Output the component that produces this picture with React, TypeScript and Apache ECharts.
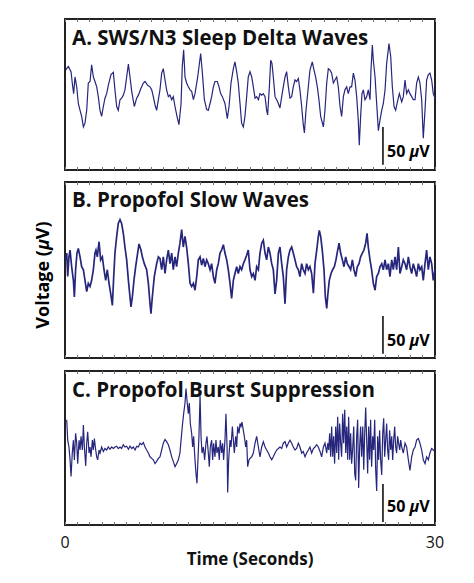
import React, { useEffect, useRef } from 'react';
import * as echarts from 'echarts';

// Time (s), voltage (µV)
const sleepDelta: [number, number][] = [
  [0.05,35],[0.27,40],[0.49,33],[0.59,18],[0.70,4],[0.81,26],[0.95,13],[1.08,-9],[1.22,-18],[1.35,-26],[1.49,-40],[1.62,-35],[1.76,-18],[1.89,18],[2.03,20],[2.16,42],[2.30,26],[2.43,20],[2.57,13],[2.70,0],[2.84,-18],[2.97,-26],[3.11,-13],[3.24,-2],[3.38,4],[3.51,15],[3.73,29],[3.92,32],[4.05,9],[4.19,-13],[4.32,-18],[4.46,-4],[4.59,-2],[4.73,2],[4.86,9],[5.00,26],[5.14,43],[5.27,26],[5.41,7],[5.62,-13],[5.81,-2],[5.95,2],[6.16,11],[6.35,18],[6.49,20],[6.70,15],[6.89,13],[7.03,9],[7.16,0],[7.30,-11],[7.43,-18],[7.57,-4],[7.70,9],[7.84,31],[7.97,37],[8.11,22],[8.24,9],[8.38,0],[8.51,2],[8.65,-4],[8.78,0],[8.92,-13],[9.08,-26],[9.24,-37],[9.41,-9],[9.51,40],[9.62,62],[9.73,26],[9.86,18],[10.00,13],[10.14,9],[10.27,7],[10.41,-4],[10.54,4],[10.76,26],[11.00,57],[11.14,31],[11.30,-4],[11.49,-17],[11.62,-18],[11.76,-9],[11.89,0],[12.03,13],[12.16,20],[12.35,20],[12.49,13],[12.62,4],[12.76,0],[12.97,-9],[13.16,-29],[13.30,-13],[13.46,18],[13.65,37],[13.78,46],[13.92,33],[14.05,18],[14.19,-9],[14.32,-35],[14.46,-40],[14.59,-26],[14.73,0],[14.86,26],[15.00,33],
  [15.14,26],[15.27,13],[15.41,-2],[15.54,0],[15.68,-4],[15.81,4],[15.95,2],[16.08,4],[16.22,0],[16.35,-18],[16.43,-24],[16.57,13],[16.68,48],[16.78,44],[16.89,26],[17.03,0],[17.16,-4],[17.30,-9],[17.43,-15],[17.57,0],[17.70,13],[17.84,26],[17.97,33],[18.11,13],[18.24,-2],[18.38,0],[18.51,13],[18.65,22],[18.78,20],[18.92,24],[19.05,9],[19.19,-13],[19.32,-37],[19.41,-48],[19.54,-18],[19.73,13],[19.86,35],[20.05,46],[20.19,35],[20.32,26],[20.46,13],[20.59,-4],[20.73,-26],[20.95,-40],[21.08,-18],[21.22,18],[21.35,37],[21.49,35],[21.62,31],[21.76,18],[21.89,22],[22.03,26],[22.16,13],[22.30,-13],[22.43,-26],[22.57,0],[22.70,9],[22.84,13],[22.97,4],[23.11,13],[23.24,13],[23.38,31],[23.51,22],[23.65,0],[23.78,-31],[23.86,-64],[23.97,-26],[24.08,4],[24.19,9],[24.32,-4],[24.46,0],[24.59,9],[24.73,-4],[24.81,35],[24.92,68],[25.00,48],[25.14,26],[25.27,-9],[25.41,-45],[25.54,-31],[25.68,-18],[25.81,-9],[25.95,9],[26.08,44],[26.27,70],[26.41,53],[26.54,13],[26.68,-13],[26.81,-18],[26.95,-7],[27.11,4],[27.30,-7],[27.43,0],[27.57,22],[27.70,4],[27.84,9],[27.97,4],[28.11,0],[28.24,-4],[28.38,-4],[28.51,18],[28.65,26],[28.78,18],[28.92,-4],[29.05,-55],[29.19,-18],[29.32,22],[29.46,29],[29.59,31],[29.73,22],[29.86,4],[30.00,-2]
];

const propofolSlow: [number, number][] = [
  [0.05,9],[0.14,18],[0.22,-13],[0.32,13],[0.41,22],[0.54,0],[0.68,-18],[0.76,-40],[0.86,-4],[0.97,18],[1.08,24],[1.22,13],[1.35,0],[1.49,-4],[1.62,-18],[1.76,-33],[1.89,-22],[2.03,-26],[2.16,-18],[2.30,-4],[2.43,18],[2.51,22],[2.62,13],[2.76,33],[2.89,9],[3.03,13],[3.16,-4],[3.30,-18],[3.43,-4],[3.57,-22],[3.70,-35],[3.84,-51],[3.95,-13],[4.05,18],[4.19,40],[4.32,57],[4.46,62],[4.59,57],[4.73,44],[4.86,26],[5.00,9],[5.14,-18],[5.27,-40],[5.35,-53],[5.46,-40],[5.59,-18],[5.73,0],[5.89,18],[6.00,30],[6.16,22],[6.27,13],[6.43,4],[6.62,-4],[6.76,-22],[6.89,-48],[6.97,-62],[7.08,-40],[7.24,-13],[7.43,4],[7.57,13],[7.70,11],[7.84,-4],[7.97,13],[8.11,-9],[8.24,9],[8.38,22],[8.51,4],[8.65,18],[8.78,-4],[8.92,13],[9.05,0],[9.19,18],[9.32,31],[9.46,49],[9.59,26],[9.73,40],[9.86,26],[10.00,4],[10.14,-22],[10.27,-26],[10.41,-22],[10.54,-31],[10.68,-13],[10.81,9],[10.95,13],[11.08,2],[11.22,11],[11.35,0],[11.49,9],[11.62,4],[11.76,-4],[11.89,4],[12.03,-13],[12.16,-22],[12.30,-4],[12.43,4],[12.57,18],[12.70,22],[12.84,29],[12.97,18],[13.11,9],[13.24,-4],[13.38,-22],[13.51,-42],[13.65,-18],[13.78,-9],[13.92,0],[14.05,-9],[14.19,0],[14.32,-4],[14.46,4],[14.59,9],[14.73,15],[14.86,22],
  [15.00,-4],[15.14,-13],[15.27,-9],[15.41,-18],[15.54,0],[15.68,-4],[15.81,18],[15.95,31],[16.08,35],[16.22,18],[16.35,9],[16.49,26],[16.62,18],[16.76,4],[16.89,-4],[17.03,-36],[17.16,-18],[17.30,18],[17.43,26],[17.57,4],[17.70,-13],[17.84,-49],[17.97,-4],[18.11,13],[18.24,22],[18.38,26],[18.51,18],[18.65,9],[18.78,0],[18.92,-4],[19.05,-13],[19.19,4],[19.32,-4],[19.46,-9],[19.59,4],[19.73,-4],[19.86,0],[20.00,-9],[20.14,-35],[20.27,4],[20.41,22],[20.54,40],[20.62,48],[20.73,40],[20.86,22],[21.00,-4],[21.11,-40],[21.22,-55],[21.32,-35],[21.43,-18],[21.57,-9],[21.70,-4],[21.84,0],[21.97,9],[22.11,22],[22.22,31],[22.35,18],[22.49,9],[22.62,0],[22.76,13],[22.89,4],[23.03,0],[23.16,-4],[23.30,9],[23.43,-4],[23.57,-13],[23.70,0],[23.84,4],[23.97,13],[24.11,18],[24.24,22],[24.38,31],[24.49,44],[24.59,26],[24.73,9],[24.86,-4],[25.00,-22],[25.14,-31],[25.27,-13],[25.41,-9],[25.54,0],[25.68,4],[25.81,-4],[25.95,9],[26.08,-4],[26.22,4],[26.35,-13],[26.49,9],[26.62,-4],[26.76,13],[26.89,-4],[27.03,26],[27.16,-9],[27.30,0],[27.43,9],[27.57,4],[27.70,-4],[27.84,13],[27.97,0],[28.11,-9],[28.24,4],[28.38,-4],[28.51,-13],[28.65,4],[28.78,-4],[28.92,0],[29.05,-18],[29.19,4],[29.32,22],[29.46,-4],[29.59,13],[29.73,4],[29.86,-18],[30.00,-4]
];

const burstSuppression: [number, number][] = [
  [0.14,40],[0.22,13],[0.32,4],[0.41,-13],[0.49,-35],[0.59,-4],[0.68,13],[0.76,-13],[0.86,22],[0.95,9],[1.03,-18],[1.14,13],[1.22,0],[1.30,18],[1.41,0],[1.49,33],[1.57,4],[1.68,-21],[1.76,9],[1.84,24],[1.95,-4],[2.03,4],[2.11,-9],[2.22,13],[2.30,0],[2.38,15],[2.49,0],[2.57,-9],[2.65,-13],[2.76,0],[2.84,-4],[2.97,4],[3.11,-2],[3.24,2],[3.38,0],[3.51,4],[3.65,1],[3.78,4],[3.92,2],[4.05,4],[4.19,5],[4.32,2],[4.46,4],[4.59,2],[4.73,7],[4.86,4],[5.00,5],[5.14,1],[5.27,5],[5.41,2],[5.54,4],[5.68,0],[5.81,5],[5.95,4],[6.08,9],[6.22,7],[6.35,10],[6.49,4],[6.62,0],[6.76,-4],[6.89,-9],[7.03,-11],[7.16,-13],[7.30,-18],[7.43,-15],[7.57,-11],[7.70,-9],[7.84,0],[7.97,9],[8.11,14],[8.24,11],[8.38,7],[8.51,0],[8.65,-9],[8.78,-15],[8.92,-22],[9.05,-18],[9.19,-13],[9.32,-4],[9.41,13],[9.51,31],[9.62,48],[9.73,62],[9.81,81],[9.89,66],[10.00,48],[10.08,62],[10.16,35],[10.27,22],[10.35,4],[10.43,18],[10.54,-13],[10.62,-31],[10.70,-44],[10.78,-13],[10.86,18],[10.95,72],[11.03,18],[11.11,-4],[11.22,4],[11.32,-13],[11.43,9],[11.51,18],[11.62,-4],[11.70,-22],[11.78,4],[11.89,13],[11.97,-13],[12.05,9],[12.16,-9],[12.24,13],[12.32,-4],[12.43,4],[12.51,-13],[12.59,13],[12.70,-4],[12.78,9],[12.86,-13],[12.97,13],[13.05,48],[13.14,4],[13.19,-56],[13.27,-13],[13.38,13],[13.46,4],[13.57,31],[13.65,13],[13.73,-4],[13.84,18],[13.92,4],[14.00,31],[14.11,22],[14.19,35],[14.27,31],[14.35,37],[14.46,26],[14.54,18],[14.65,4],[14.73,13],[14.81,-22],[14.92,-13],
  [15.00,-11],[15.14,-9],[15.27,-4],[15.41,9],[15.54,18],[15.68,4],[15.81,-9],[15.95,4],[16.08,11],[16.22,4],[16.35,0],[16.49,-4],[16.62,-9],[16.76,-13],[16.89,-9],[17.03,-4],[17.16,0],[17.30,2],[17.43,4],[17.57,2],[17.70,9],[17.84,11],[17.97,4],[18.11,9],[18.24,13],[18.38,9],[18.51,4],[18.65,0],[18.78,2],[18.92,9],[19.05,4],[19.19,-4],[19.32,-2],[19.46,-9],[19.59,-4],[19.73,0],[19.86,4],[20.00,-4],[20.14,2],[20.27,4],[20.41,7],[20.54,4],[20.68,-2],[20.81,-9],[20.95,4],[21.08,9],[21.22,-4],[21.30,9],[21.38,0],[21.46,22],[21.54,-9],[21.62,31],[21.70,-9],[21.78,18],[21.86,-18],[21.95,31],[22.03,-4],[22.11,44],[22.19,-13],[22.27,35],[22.35,9],[22.43,-9],[22.51,48],[22.59,9],[22.68,53],[22.76,-4],[22.84,31],[22.92,-13],[23.00,44],[23.08,-13],[23.16,22],[23.24,-18],[23.32,0],[23.41,31],[23.49,-31],[23.57,-40],[23.65,18],[23.73,40],[23.81,-50],[23.89,4],[23.97,31],[24.05,-9],[24.14,31],[24.22,-26],[24.30,22],[24.38,56],[24.46,13],[24.54,-31],[24.62,31],[24.70,-13],[24.78,40],[24.86,-22],[24.95,18],[25.03,0],[25.11,40],[25.19,-26],[25.27,-54],[25.35,18],[25.43,-13],[25.51,26],[25.59,-13],[25.68,-33],[25.76,22],[25.84,42],[25.92,-9],[26.00,13],[26.08,35],[26.16,0],[26.24,-13],[26.32,26],[26.41,0],[26.49,18],[26.57,-13],[26.65,13],[26.73,31],[26.81,4],[26.89,-4],[26.97,18],[27.05,9],[27.14,0],[27.22,13],[27.30,4],[27.43,-4],[27.57,9],[27.70,4],[27.84,-13],[27.97,-27],[28.11,-9],[28.24,0],[28.38,4],[28.51,13],[28.65,15],[28.78,9],[28.92,0],[29.05,-13],[29.19,-18],[29.32,-9],[29.46,-13],[29.59,-4],[29.73,2],[29.86,0],[30.00,-2]
];

const panelTitles = ['A. SWS/N3 Sleep Delta Waves', 'B. Propofol Slow Waves', 'C. Propofol Burst Suppression'];
const timeExtent = [0, 30];
const timeTickLabels = [0, 30];
const scaleBarMicroVolts = 50;
const scaleBarTime = 25.78;
// y extents (µV) of each panel, bottom/top
const yExtents: [number, number][] = [[-96.8, 102.5], [-120.5, 111.8], [-99, 104.3]];
const scaleBarBottoms = [-90, -115, -95];

export default function App() {
  const ref = useRef<HTMLDivElement>(null);
  useEffect(() => {
    const chart = echarts.init(ref.current!, null, { renderer: 'svg' });
    const grids = [
      { left: 65, top: 19, width: 370, height: 151 },
      { left: 65, top: 182, width: 370, height: 176 },
      { left: 65, top: 371, width: 370, height: 154 },
    ];
    const traces = [sleepDelta, propofolSlow, burstSuppression];
    const traceWidths = [1.2, 1.7, 1.2];
    const font = 'Open Sans';
    const tick = { show: true, inside: true, length: 3, lineStyle: { color: '#777', width: 1 } };
    const xAxis: any[] = [];
    const yAxis: any[] = [];
    grids.forEach((g, i) => {
      xAxis.push({
        type: 'value', gridIndex: i, min: timeExtent[0], max: timeExtent[1], interval: 1,
        position: 'bottom', axisLine: { show: false, onZero: false }, splitLine: { show: false }, axisTick: tick,
        axisLabel: {
          show: i === 2, margin: 9, fontSize: 16, color: '#111', fontFamily: font,
          formatter: (v: number) => (timeTickLabels.includes(v) ? String(v) : ''),
        },
      });
      xAxis.push({
        type: 'value', gridIndex: i, min: timeExtent[0], max: timeExtent[1], interval: 1,
        position: 'top', axisLine: { show: false, onZero: false }, splitLine: { show: false }, axisTick: tick,
        axisLabel: { show: false },
      });
      yAxis.push({ type: 'value', gridIndex: i, min: yExtents[i][0], max: yExtents[i][1], show: false });
    });
    const series: any[] = [];
    traces.forEach((d, i) => {
      series.push({
        type: 'line', xAxisIndex: i * 2, yAxisIndex: i, data: d, showSymbol: false, symbol: 'none',
        lineStyle: { color: '#26267c', width: traceWidths[i], join: 'miter' }, silent: true,
      });
      series.push({
        type: 'line', xAxisIndex: i * 2, yAxisIndex: i, showSymbol: false, symbol: 'none',
        data: [[scaleBarTime, scaleBarBottoms[i]], [scaleBarTime, scaleBarBottoms[i] + scaleBarMicroVolts]],
        lineStyle: { color: '#000', width: 1.5 }, silent: true,
      });
    });
    const rich = {
      b: { fontFamily: font, fontWeight: 'bold', fontSize: 16, color: '#111' },
      i: { fontFamily: font, fontStyle: 'italic', fontWeight: 'bold', fontSize: 16, color: '#111' },
    };
    const scaleLabelY = [151, 340, 506];
    const titleCenters = [37, 199, 388.5];
    const graphic: any[] = [];
    panelTitles.forEach((t, i) => {
      graphic.push({
        type: 'text', x: 72, y: titleCenters[i],
        style: { text: t, fontFamily: font, fontWeight: 'bold', fontSize: 20.5, fill: '#111', verticalAlign: 'middle' },
      });
      graphic.push({
        type: 'text', x: 387, y: scaleLabelY[i],
        style: { text: '{b|' + scaleBarMicroVolts + ' }{i|μ}{b|V}', rich, verticalAlign: 'middle' },
      });
    });
    graphic.push({
      type: 'text', x: 250, y: 558,
      style: { text: 'Time (Seconds)', fontFamily: font, fontWeight: 'bold', fontSize: 17, fill: '#111', align: 'center', verticalAlign: 'middle' },
    });
    graphic.push({
      type: 'text', x: 42, y: 275, rotation: Math.PI / 2,
      style: {
        text: '{b|Voltage (}{i|μ}{b|V)}', align: 'center', verticalAlign: 'middle',
        rich: {
          b: { fontFamily: font, fontWeight: 'bold', fontSize: 18, color: '#111' },
          i: { fontFamily: font, fontStyle: 'italic', fontWeight: 'bold', fontSize: 18, color: '#111' },
        },
      },
    });
    chart.setOption({
      animation: false,
      backgroundColor: '#fff',
      grid: grids.map((g) => ({ ...g, show: true, borderColor: '#222', borderWidth: 2, backgroundColor: 'transparent' })),
      xAxis, yAxis, series, graphic,
    });
    return () => chart.dispose();
  }, []);
  return <div ref={ref} style={{ position: 'fixed', left: 0, top: 0, width: 474, height: 583, background: '#fff' }} />;
}
